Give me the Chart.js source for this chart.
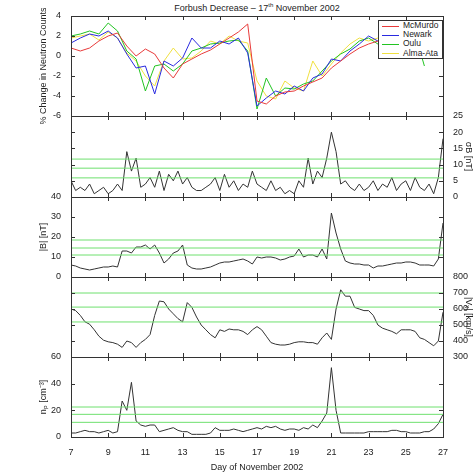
<!DOCTYPE html>
<html>
<head>
<meta charset="utf-8">
<script src="https://cdn.jsdelivr.net/npm/chart.js@4"></script>
<style>
body { margin:0; background:#fff; font-family:"Liberation Sans", Arial, sans-serif; }
#wrap { position:relative; width:474px; height:474px; }
canvas { position:absolute; left:0; }
#title { position:absolute; left:71px; width:372px; top:2px; text-align:center; font-size:9px; color:#222; }
#legend { position:absolute; left:378px; top:20px; width:63px; height:37px; border:1px solid #333; background:#fff; font-size:8.5px; color:#222; z-index:5; }
#legend div { height:9.2px; line-height:9.2px; position:relative; padding-left:24px; }
#legend span { position:absolute; left:3px; top:4.5px; width:17px; height:1px; }
</style>
</head>
<body>
<div id="wrap">
  <div id="title">Forbush Decrease – 17<sup style="font-size:6px">th</sup> November 2002</div>
  <div id="legend">
    <div><span style="background:#e83a3a"></span>McMurdo</div>
    <div><span style="background:#2a2ae0"></span>Newark</div>
    <div><span style="background:#22c422"></span>Oulu</div>
    <div><span style="background:#f0e040"></span>Alma-Ata</div>
  </div>
  <canvas id="p1" width="474" height="116" style="top:8px"></canvas>
  <canvas id="p2" width="474" height="97" style="top:108px"></canvas>
  <canvas id="p3" width="474" height="96" style="top:189px"></canvas>
  <canvas id="p4" width="474" height="96" style="top:269px"></canvas>
  <canvas id="p5" width="474" height="124" style="top:349px"></canvas>
</div>
<script>
// neutron monitor days (half-day steps)
const nDays = [];
for (let d = 7; d <= 26.5; d += 0.5) nDays.push(d);
// solar wind days (quarter-day steps)
const days = [];
for (let d = 7; d <= 27; d += 0.25) days.push(d);

const mcmurdo = [0.8,0.5,0.8,1.5,2.0,2.3,1.0,0.0,0.7,0.2,-1.2,-2.2,-0.8,-0.3,0.2,0.6,1.2,1.8,2.4,3.2,-4.5,-4.8,-4.0,-3.6,-3.5,-3.0,-2.6,-2.2,-1.2,-0.5,0.2,0.8,1.2,1.5,1.8,1.8,2.0,2.2,2.3,2.5];
const newark = [1.3,1.8,2.2,2.0,2.5,1.8,0.2,-1.2,-1.0,-3.8,-0.5,-1.0,-0.2,1.8,0.8,0.8,1.5,1.2,1.8,0.3,-5.0,-4.2,-3.5,-3.8,-3.0,-3.5,-2.2,-1.8,-0.3,-0.5,0.5,1.2,2.0,1.5,1.8,1.8,2.0,2.0,2.2,2.3];
const oulu = [2.0,2.2,2.5,2.2,3.3,2.5,0.5,-0.3,-3.5,-1.0,-0.8,-1.5,-0.8,0.5,0.8,1.2,1.3,1.5,1.6,0.5,-5.3,-2.2,-4.0,-3.2,-3.3,-2.8,-2.5,-1.5,-0.5,0.2,0.7,1.5,1.8,1.2,1.8,2.0,2.1,2.2,-1.0,null];
const almaAta = [1.8,2.0,2.2,1.6,2.4,1.8,0.3,-0.5,-2.0,-3.0,-0.5,0.8,-0.3,-0.2,0.5,1.5,1.2,2.0,1.5,1.3,-2.5,-4.0,-4.3,-2.5,-3.2,-3.5,-0.5,-2.0,-0.8,0.3,1.2,1.8,1.5,1.8,1.6,2.0,2.0,2.1,2.2,2.2];

const sigmaB = [5,2,3,2,4,1,2,3,1,2,4,2, 14,8,12,3, 4,6,3,8,2,7,5,8,4,6,3,2, 2,3,4,6,2,7,3,5,2,4,3,8, 4,3,2,5,2,3,1,2,1,5,3,12, 4,8,6,12,20,14,4,5, 3,2,4,2,3,5,2,4,3,6,2,4, 5,2,6,3,2,4,1,6, 18];
const bMag = [6,5.5,4.5,4,3.5,4,4.5,5,5,5.5,5,13, 13,12,15,15,16,14,16,12,7,9,12,13,16,6,4.5,4, 4,4.5,5,6,7,7.5,7.5,8,8.5,9,8,6.5, 10,9.5,10,10,9.5,8.5,9,10,10.5,14,10,11, 11,10,14,9,32,22,14,8, 7,6.5,6.5,6,6,4.5,5.5,5.5,6,6.5,7,7, 7.5,7.5,7,6,6,6,5.5,9, 27];
const vx = [600,590,560,520,505,470,430,405,395,390,380,360,400,390,360,390,410,440,560,650,645,600,570,540,520,640,610,550,500,470,440,420,470,460,475,470,470,460,440,470,490,470,430,390,380,375,375,380,390,395,395,390,390,380,420,450,410,600,720,680,680,610,600,590,590,560,500,480,470,460,445,470,470,470,460,420,410,390,370,400,580];
const np = [3,3,4,5,4,4,3,4,5,3,4,27, 20,41,12,9, 8,9,9,4,5,6,7,5,4,4,2,2, 2,2,3,7,5,5,5,6,5,4,5,6, 7,6,8,7,8,6,5,6,6,5,7,6, 9,7,12,18,52,20,3,3, 3,3,3,3,4,4,4,4,4,5,5,4, 4,3,3,3,4,4,6,10, 17];

// green reference levels
const sigmaLevels = [5.9, 8.9, 11.7];
const bLevels = [11, 14.5, 18.5];
const vxLevels = [519, 612, 700];
const npLevels = [11, 17, 22.5];

function series(xs, ys, color) {
  return { data: xs.map((x, i) => ({ x: x, y: ys[i] })), borderColor: color, borderWidth: 1, pointRadius: 0, tension: 0, spanGaps: false };
}
function levels(vals) {
  return vals.map(v => ({ data: [{ x: 7, y: v }, { x: 27, y: v }], borderColor: '#6ee06e', borderWidth: 1, pointRadius: 0 }));
}

const frame = {
  id: 'frame',
  afterDraw(chart) {
    const ctx = chart.ctx, a = chart.chartArea;
    const x = chart.scales.x, y = chart.scales.y;
    ctx.save();
    ctx.strokeStyle = '#333';
    ctx.lineWidth = 1;
    ctx.strokeRect(a.left + 0.5, a.top + 0.5, a.right - a.left, a.bottom - a.top);
    ctx.beginPath();
    for (let d = 7; d <= 27; d += 2) {
      const px = Math.round(x.getPixelForValue(d)) + 0.5;
      ctx.moveTo(px, a.top); ctx.lineTo(px, a.top + 4);
      ctx.moveTo(px, a.bottom); ctx.lineTo(px, a.bottom - 4);
    }
    y.ticks.forEach(t => {
      const py = Math.round(y.getPixelForValue(t.value)) + 0.5;
      ctx.moveTo(a.left, py); ctx.lineTo(a.left + 4, py);
      ctx.moveTo(a.right, py); ctx.lineTo(a.right - 4, py);
    });
    ctx.stroke();
    ctx.restore();
  }
};

const font = { family: '"Liberation Sans", Arial, sans-serif', size: 9 };

function yAxis(pos, min, max, step, labelled, title) {
  return {
    type: 'linear', position: pos, min: min, max: max,
    afterFit: s => { s.width = pos === 'left' ? 33 : 31; },
    grid: { display: false },
    border: { display: false },
    ticks: { display: labelled, stepSize: step, autoSkip: false, font: font, color: '#222', padding: 2 },
    title: { display: !!title, text: title || '', font: font, color: '#222', padding: 0 }
  };
}

function panel(id, datasets, yMin, yMax, step, side, title, showX) {
  new Chart(document.getElementById(id), {
    type: 'line',
    data: { datasets: datasets },
    options: {
      responsive: false, animation: false,
      layout: { padding: { top: 8, bottom: showX ? 0 : 8, left: 38, right: 0 } },
      plugins: { legend: { display: false }, tooltip: { enabled: false } },
      scales: {
        x: {
          type: 'linear', min: 7, max: 27, display: showX,
          afterFit: s => { if (showX) s.height = 36; },
          grid: { display: false }, border: { display: false },
          ticks: { stepSize: 2, font: font, color: '#222', padding: 2, maxRotation: 0 },
          title: { display: true, text: 'Day of November 2002', font: font, color: '#222', padding: 0 }
        },
        y: yAxis('left', yMin, yMax, step, side === 'left', side === 'left' ? title : ''),
        y2: yAxis('right', yMin, yMax, step, side === 'right', side === 'right' ? title : '')
      }
    },
    plugins: [frame]
  });
}

panel('p1', [
  series(nDays, mcmurdo, '#e83a3a'),
  series(nDays, newark, '#2a2ae0'),
  series(nDays, oulu, '#22c422'),
  series(nDays, almaAta, '#f0e040')
], -6, 4, 2, 'left', '% Change in Neutron Counts', false);
panel('p2', levels(sigmaLevels).concat([series(days, sigmaB, '#333')]), 0, 25, 5, 'right', 'σB [nT]', false);
panel('p3', levels(bLevels).concat([series(days, bMag, '#333')]), 0, 40, 10, 'left', '|B| [nT]', false);
panel('p4', levels(vxLevels).concat([series(days, vx, '#333')]), 300, 800, 100, 'right', '|Vₓ| [km/s]', false);
panel('p5', levels(npLevels).concat([series(days, np, '#333')]), 0, 60, 20, 'left', 'nₚ [cm⁻³]', true);
</script>
</body>
</html>
